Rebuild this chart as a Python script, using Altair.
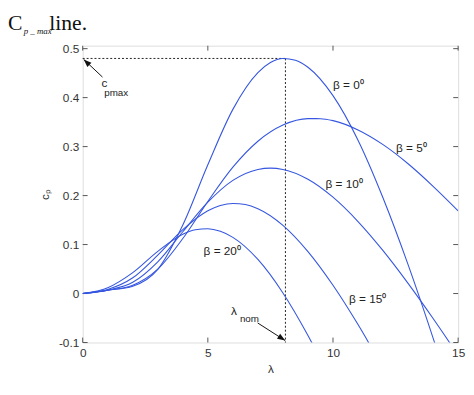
import altair as alt
import pandas as pd

# ---- data ----
lam_b0 = [0, 1, 2, 3, 4, 5, 6, 7, 7.5, 8, 8.5, 9, 10, 11, 12, 13, 14, 15]
cp_b0 = [0, 0.0068, 0.0151, 0.0495, 0.140, 0.263, 0.376, 0.451, 0.4716, 0.480, 0.4764, 0.462, 0.404, 0.313, 0.195, 0.059, -0.091, -0.251]
lam_b5 = [0, 1, 2, 3, 4, 5, 6, 7, 8, 9, 9.5, 10, 11, 12, 13, 14, 15]
cp_b5 = [0, 0.0068, 0.0170, 0.0497, 0.1123, 0.188, 0.258, 0.311, 0.344, 0.3572, 0.3570, 0.353, 0.334, 0.304, 0.265, 0.219, 0.169]
lam_b10 = [0, 1, 2, 3, 4, 5, 6, 7, 7.5, 8, 9, 10, 11, 12, 13, 14, 15]
cp_b10 = [0, 0.0070, 0.0229, 0.0647, 0.1261, 0.1864, 0.231, 0.2534, 0.2561, 0.2534, 0.2334, 0.1967, 0.147, 0.0875, 0.0207, -0.051, -0.126]
lam_b15 = [0, 1, 2, 3, 4, 5, 5.5, 6, 6.5, 7, 8, 9, 10, 11, 12]
cp_b15 = [0, 0.0083, 0.0321, 0.0784, 0.1304, 0.1689, 0.1797, 0.184, 0.1818, 0.1733, 0.1393, 0.0857, 0.0169, -0.0634, -0.152]
lam_b20 = [0, 1, 2, 3, 4, 4.5, 5, 5.5, 6, 7, 8, 9, 10]
cp_b20 = [0.0001, 0.0119, 0.0427, 0.0862, 0.1211, 0.1302, 0.1323, 0.1271, 0.1147, 0.0696, 0.0012, -0.0856, -0.186]

betas = ["0", "5", "10", "15", "20"]
beta_labels = ["β = 0⁰", "β = 5⁰", "β = 10⁰", "β = 15⁰", "β = 20⁰"]
label_lam = [10.0, 12.52, 9.70, 10.64, 4.83]
label_cp = [0.426, 0.298, 0.223, -0.012, 0.087]

x_ticks = [0, 5, 10, 15]
y_ticks = [-0.1, 0, 0.1, 0.2, 0.3, 0.4, 0.5]

cp_max = 0.48
lam_nom = 8.1

# ---- tables ----
rows = []
for b, lams, cps in zip(betas, [lam_b0, lam_b5, lam_b10, lam_b15, lam_b20],
                        [cp_b0, cp_b5, cp_b10, cp_b15, cp_b20]):
    for i, (l, c) in enumerate(zip(lams, cps)):
        rows.append({"beta": b, "lam": l, "cp": c, "o": i})
curves = pd.DataFrame(rows)

dashed = pd.DataFrame({
    "seg": ["h", "h", "v", "v"],
    "lam": [0, lam_nom, lam_nom, lam_nom],
    "cp": [cp_max, cp_max, cp_max, -0.1],
    "o": [0, 1, 0, 1],
})
arrows = pd.DataFrame({
    "a": ["c", "c", "n", "n"],
    "lam": [0.79, 0.04, 6.99, 8.09],
    "cp": [0.442, 0.478, -0.060, -0.096],
    "o": [0, 1, 0, 1],
})
heads = pd.DataFrame({"lam": [0.04, 8.09], "cp": [0.478, -0.096], "ang": [313.5, 122.7]})
blabels = pd.DataFrame({"t": beta_labels, "lam": label_lam, "cp": label_cp})
annot_main = pd.DataFrame({"t": ["c", "λ"], "lam": [0.75, 5.93], "cp": [0.430, -0.036]})
annot_sub = pd.DataFrame({"t": ["pmax", "nom"], "lam": [0.86, 6.28], "cp": [0.410, -0.052]})
xt = pd.DataFrame({"v": x_ticks})
yt = pd.DataFrame({"v": y_ticks})

W, H = 382, 302
FONT = "Liberation Sans"
xs = alt.Scale(domain=[0, 15], nice=False, zero=False)
ys = alt.Scale(domain=[-0.1, 0.506], nice=False, zero=False)
xaxis = alt.Axis(values=x_ticks, title="λ", domain=False, ticks=False, grid=False,
                 labelFont=FONT, labelFontSize=12, labelColor="#333", labelPadding=5,
                 labelFlush=False, labelOverlap=False, labelBound=False,
                 titleFont=FONT, titleFontSize=12, titleFontWeight="normal", titleColor="#333",
                 titleX=191, titleY=27, titleBaseline="middle")
yaxis = alt.Axis(values=y_ticks, title="cₚ", domain=False, ticks=False, grid=False,
                 labelFont=FONT, labelFontSize=12, labelColor="#333", labelPadding=4,
                 labelFlush=False, labelOverlap=False, labelBound=False,
                 labelExpr="'' + round(datum.value*10)/10",
                 titleFont=FONT, titleFontSize=12, titleFontWeight="normal", titleColor="#333",
                 titleX=-39, titleY=151, titleAngle=270, titleBaseline="middle", titleAlign="center")

X = alt.X("lam:Q", scale=xs, axis=xaxis)
Y = alt.Y("cp:Q", scale=ys, axis=yaxis)

lines = alt.Chart(curves).mark_line(color="#3556e0", strokeWidth=1.1, clip=True,
                                    interpolate="monotone").encode(
    x=X, y=Y, detail="beta:N", order="o:Q")

dash = alt.Chart(dashed).mark_line(color="#222", strokeWidth=1, strokeDash=[2, 2]).encode(
    x=X, y=Y, detail="seg:N", order="o:Q")

arr = alt.Chart(arrows).mark_line(color="#111", strokeWidth=1).encode(
    x=X, y=Y, detail="a:N", order="o:Q")

head = alt.Chart(heads).mark_point(shape="M0,0L-0.75,2L0.75,2Z", filled=True, color="#111",
                                   size=64, opacity=1).encode(
    x=X, y=Y, angle=alt.Angle("ang:Q", scale=None))

btext = alt.Chart(blabels).mark_text(align="left", baseline="middle", font=FONT, fontSize=12,
                                     color="#222").encode(x=X, y=Y, text="t:N")
amain = alt.Chart(annot_main).mark_text(align="left", baseline="middle", font=FONT, fontSize=12,
                                        color="#222").encode(x=X, y=Y, text="t:N")
asub = alt.Chart(annot_sub).mark_text(align="left", baseline="middle", font=FONT, fontSize=10,
                                      color="#222").encode(x=X, y=Y, text="t:N")

xt_bot = alt.Chart(xt).mark_rule(color="#555").encode(
    x=alt.X("v:Q", scale=xs, axis=xaxis), y=alt.value(H), y2=alt.value(H - 5))
xt_top = alt.Chart(xt).mark_rule(color="#555").encode(
    x=alt.X("v:Q", scale=xs, axis=xaxis), y=alt.value(0), y2=alt.value(5))
yt_left = alt.Chart(yt).mark_rule(color="#555").encode(
    y=alt.Y("v:Q", scale=ys, axis=yaxis), x=alt.value(0), x2=alt.value(5))
yt_right = alt.Chart(yt).mark_rule(color="#555").encode(
    y=alt.Y("v:Q", scale=ys, axis=yaxis), x=alt.value(W), x2=alt.value(W - 5))

# text of the surrounding page (above the figure)
page_c = alt.Chart(pd.DataFrame({"t": ["C"]})).mark_text(
    align="left", baseline="alphabetic", font="Liberation Serif", fontSize=22, color="#111").encode(
    x=alt.value(-76), y=alt.value(-16), text="t:N")
page_sub = alt.Chart(pd.DataFrame({"t": ["p _ max"]})).mark_text(
    align="left", baseline="alphabetic", font="Liberation Serif", fontSize=9, fontStyle="italic",
    color="#111").encode(x=alt.value(-60), y=alt.value(-12), text="t:N")
page_line = alt.Chart(pd.DataFrame({"t": ["line."]})).mark_text(
    align="left", baseline="alphabetic", font="Liberation Serif", fontSize=22, color="#111").encode(
    x=alt.value(-34), y=alt.value(-16), text="t:N")

chart = alt.layer(
    xt_bot, xt_top, yt_left, yt_right, dash, lines, arr, head, btext, amain, asub,
    page_c, page_sub, page_line
).properties(
    width=W, height=H,
    padding={"left": 76, "top": 35, "right": 8, "bottom": 48},
    autosize=alt.AutoSizeParams(type="none"),
).configure_view(stroke="#555", strokeWidth=1.2).configure(background="white")

chart.save("out.html", embed_options={"renderer": "svg", "actions": False})
